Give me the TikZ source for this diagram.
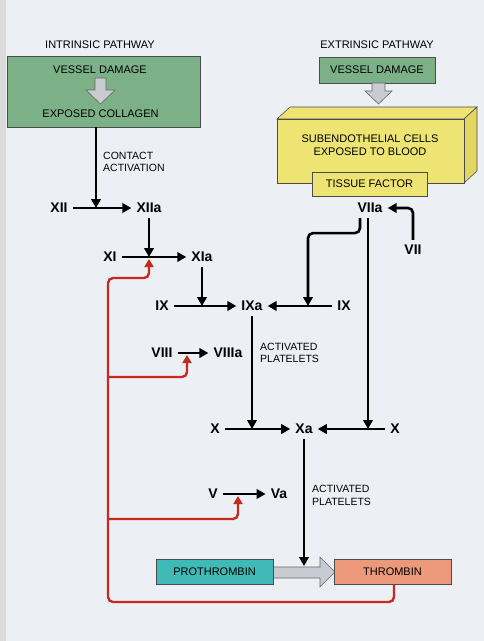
\documentclass[tikz,border=0pt]{standalone}
\usepackage{fontspec}
\setmainfont{Liberation Sans}
\usetikzlibrary{
  arrows.meta,
  calc
}
\definecolor{paper}{RGB}{236,239,244}
\definecolor{damage}{RGB}{124,176,134}
\definecolor{cells}{RGB}{238,228,116}
\definecolor{cellside}{RGB}{226,214,98}
\definecolor{prothr}{RGB}{64,186,182}
\definecolor{thromb}{RGB}{236,152,122}
\definecolor{feedred}{RGB}{196,42,32}
\definecolor{blockgrey}{RGB}{200,204,210}
\tikzset{
  factor/.style={font=\fontsize{14}{16}\selectfont\bfseries, inner sep=5pt},
  note/.style={font=\fontsize{11}{13}\selectfont, inner sep=0pt, align=center},
  small/.style={font=\fontsize{10.5}{12.5}\selectfont, inner sep=0pt, align=left, anchor=west},
  link/.style={line width=2.6pt, -{Triangle[length=9pt,width=9.5pt]}},
  feedback/.style={line width=2.4pt, draw=feedred, rounded corners=5pt,
    -{Triangle[length=8pt,width=9pt,fill=feedred]}},
  panel/.style={draw=black!70, line width=0.6pt, inner sep=0pt},
  block/.style={draw=black!60, fill=blockgrey, line width=0.6pt}
}

\begin{document}
\begin{tikzpicture}[x=1pt,y=-1pt]
    %initialisation
    \useasboundingbox (0,0) rectangle (484,641);
    \fill[paper] (0,0) rectangle (484,641);
    \fill[black!14] (0,0) rectangle (6,641);
    %pathways
    \node[note] (intrT) at (100,45) {INTRINSIC PATHWAY};
    \node[note] (extrT) at (377,45) {EXTRINSIC PATHWAY};
    \node[panel, fill=damage, minimum width=193pt, minimum height=71pt] (Intr) at (103.5,91.5) {};
    \node[note] (vdI) at (100,70) {VESSEL DAMAGE};
    \node[note] (ecI) at (100.5,114) {EXPOSED COLLAGEN};
    \draw[block] (95,78) -- (106,78) -- (106,90) -- (115,90) -- (100.5,104)
      -- (86,90) -- (95,90) -- cycle;
    \node[panel, fill=damage, minimum width=116pt, minimum height=26pt] (Extr) at (377,70) {};
    \node[note] (vdE) at (377,70) {VESSEL DAMAGE};
    \draw[block] (372,83) -- (385,83) -- (385,91) -- (392,91) -- (378.5,104)
      -- (365,91) -- (372,91) -- cycle;
    %subendothelial block
    \draw[panel, fill=cells] (277,119) -- (290,107) -- (477,107) -- (464,119) -- cycle;
    \draw[panel, fill=cellside] (464,119) -- (477,107) -- (477,171) -- (464,183) -- cycle;
    \node[panel, fill=cells, minimum width=187pt, minimum height=64pt] (Cells) at (370.5,151) {};
    \node[note] (cellsT) at (370,145.5) {SUBENDOTHELIAL CELLS\\EXPOSED TO BLOOD};
    \node[panel, fill=cells, minimum width=115pt, minimum height=24pt] (TF) at (369.5,184)
      {\fontsize{11}{13}\selectfont TISSUE FACTOR};
    %factors
    \node[factor] (XII) at (59,208) {XII};
    \node[factor] (XIIa) at (149,208) {XIIa};
    \node[factor] (XI) at (110,257) {XI};
    \node[factor] (XIa) at (202,257) {XIa};
    \node[factor] (IXl) at (162,306) {IX};
    \node[factor] (IXa) at (252,306) {IXa};
    \node[factor] (IXr) at (344,306) {IX};
    \node[factor] (VIII) at (162,353) {VIII};
    \node[factor] (VIIIa) at (228,353) {VIIIa};
    \node[factor] (Xl) at (215,429) {X};
    \node[factor] (Xa) at (304,429) {Xa};
    \node[factor] (Xr) at (395,429) {X};
    \node[factor] (V) at (213,494) {V};
    \node[factor] (Va) at (279,494) {Va};
    \node[factor] (VIIa) at (370,208) {VIIa};
    \node[factor] (VII) at (413,250) {VII};
    \node[small] (contact) at (103,162) {CONTACT\\ACTIVATION};
    \node[small] (plt1) at (260,353) {ACTIVATED\\PLATELETS};
    \node[small] (plt2) at (312,495.5) {ACTIVATED\\PLATELETS};
    %thrombin
    \draw[block] (273,567) -- (320,567) -- (320,557) -- (335,572) -- (320,587)
      -- (320,578) -- (273,578) -- cycle;
    \node[panel, fill=prothr, minimum width=117pt, minimum height=25pt] (Pro) at (214.5,571.5)
      {\fontsize{11}{13}\selectfont PROTHROMBIN};
    \node[panel, fill=thromb, minimum width=117pt, minimum height=25pt] (Thr) at (392.5,571.5)
      {\fontsize{11}{13}\selectfont THROMBIN};
    %points
    \coordinate (conv) at (304,566);
    \coordinate (tf9) at (308,306);
    \coordinate (hit11) at ($(XIIa |- XI)+(0,2)$);
    \coordinate (hit8) at (187,355);
    \coordinate (hit5) at (238,496);
    \coordinate (railtop) at (108,278);
    \coordinate (railbot) at (108,602);
    \coordinate (r8) at (108,377);
    \coordinate (r5) at (108,519);
    %cascade
    \draw[link] ([xshift=-7.5pt]Intr.south) -- ([xshift=-7.5pt]Intr.south |- XII);
    \draw[link] (XII) -- (XIIa);
    \draw[link] (XIIa.south) -- (XIIa |- XI);
    \draw[link] (XI) -- (XIa);
    \draw[link] (XIa.south) -- (XIa |- IXa);
    \draw[link] (IXl) -- (IXa);
    \draw[link] (IXr) -- (IXa);
    \draw[link] (VIII) -- (VIIIa);
    \draw[link] (IXa.south) -- (IXa |- Xa);
    \draw[link] (Xl) -- (Xa);
    \draw[link] (Xr) -- (Xa);
    \draw[link] (V) -- (Va);
    \draw[link] (Xa.south) -- (conv);
    \draw[link, rounded corners=5pt] (VII.north) |- (VIIa.east);
    \draw[link, rounded corners=5pt] ([xshift=-10pt]VIIa.south) -- ++(0,15) -| (tf9);
    \draw[link] ([xshift=-2pt]VIIa.south) -- ([xshift=-2pt]VIIa.south |- Xr);
    %feedback
    \draw[feedback] ([xshift=1.5pt]Thr.south) |- (railbot) -- (railtop) -| (hit11);
    \draw[feedback] (r8) -| (hit8);
    \draw[feedback] (r5) -| (hit5);
\end{tikzpicture}
\end{document}
